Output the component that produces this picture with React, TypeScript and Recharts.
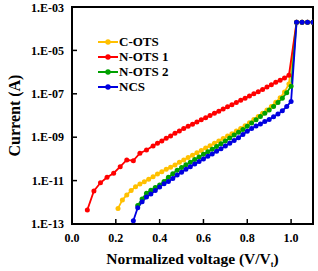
import { LineChart, Line, XAxis, YAxis, ReferenceArea, Legend } from 'recharts';

// x = normalized voltage (V/Vt), y = log10 of current (A)
const cotsX = [0.21, 0.23, 0.25, 0.27, 0.29, 0.31, 0.33, 0.35, 0.37, 0.39, 0.41, 0.43, 0.45, 0.47, 0.49, 0.51, 0.53, 0.55, 0.57, 0.59, 0.61, 0.63, 0.65, 0.67, 0.69, 0.71, 0.73, 0.75, 0.77, 0.79, 0.81, 0.83, 0.85, 0.87, 0.89, 0.91, 0.93, 0.95, 0.97, 0.99];
const cotsLog = [-12.28, -11.89, -11.66, -11.46, -11.28, -11.16, -11.05, -10.94, -10.82, -10.7, -10.59, -10.48, -10.39, -10.28, -10.16, -10.05, -9.94, -9.83, -9.72, -9.61, -9.5, -9.39, -9.28, -9.17, -9.06, -8.95, -8.84, -8.72, -8.6, -8.47, -8.33, -8.19, -8.05, -7.9, -7.75, -7.58, -7.39, -7.18, -6.92, -6.55];

const nots1X = [0.07, 0.1, 0.13, 0.16, 0.19, 0.22, 0.25, 0.28, 0.31, 0.34, 0.37, 0.39, 0.41, 0.43, 0.45, 0.47, 0.49, 0.51, 0.53, 0.55, 0.57, 0.59, 0.61, 0.63, 0.65, 0.67, 0.69, 0.71, 0.73, 0.75, 0.77, 0.79, 0.81, 0.83, 0.85, 0.87, 0.89, 0.91, 0.93, 0.95, 0.97, 0.99];
const nots1Log = [-12.35, -11.48, -11.1, -10.85, -10.66, -10.36, -10.05, -10.08, -9.74, -9.59, -9.4, -9.28, -9.17, -9.05, -8.94, -8.82, -8.71, -8.6, -8.5, -8.4, -8.3, -8.2, -8.1, -8.0, -7.9, -7.8, -7.7, -7.6, -7.5, -7.4, -7.3, -7.2, -7.1, -7.0, -6.9, -6.8, -6.69, -6.58, -6.47, -6.37, -6.27, -6.15];

const nots2X = [0.3, 0.32, 0.34, 0.36, 0.38, 0.4, 0.42, 0.44, 0.46, 0.48, 0.5, 0.52, 0.54, 0.56, 0.58, 0.6, 0.62, 0.64, 0.66, 0.68, 0.7, 0.72, 0.74, 0.76, 0.78, 0.8, 0.82, 0.84, 0.86, 0.88, 0.9, 0.92, 0.94, 0.96, 0.98, 1.0];
const nots2Log = [-12.15, -11.85, -11.58, -11.45, -11.32, -11.2, -11.04, -10.85, -10.68, -10.52, -10.4, -10.27, -10.15, -10.03, -9.91, -9.79, -9.67, -9.55, -9.43, -9.3, -9.17, -9.04, -8.9, -8.77, -8.64, -8.5, -8.35, -8.2, -8.05, -7.9, -7.75, -7.58, -7.4, -7.2, -6.95, -6.65];

const ncsX = [0.28, 0.3, 0.32, 0.34, 0.36, 0.38, 0.4, 0.42, 0.44, 0.46, 0.48, 0.5, 0.52, 0.54, 0.56, 0.58, 0.6, 0.62, 0.64, 0.66, 0.68, 0.7, 0.72, 0.74, 0.76, 0.78, 0.8, 0.82, 0.84, 0.86, 0.88, 0.9, 0.92, 0.94, 0.96, 0.98, 1.0];
const ncsLog = [-12.85, -12.25, -11.98, -11.76, -11.62, -11.46, -11.3, -11.14, -11.04, -10.9, -10.74, -10.62, -10.48, -10.36, -10.24, -10.12, -10.0, -9.88, -9.77, -9.65, -9.53, -9.41, -9.28, -9.15, -9.02, -8.88, -8.73, -8.6, -8.48, -8.39, -8.28, -8.18, -8.06, -7.93, -7.78, -7.59, -7.35];

// compliance plateau reached by every device after switching
const complianceX = [1.025, 1.05, 1.075, 1.1];
const complianceLog = [-3.7, -3.7, -3.7, -3.7];

const xTicks = [0, 0.2, 0.4, 0.6, 0.8, 1.0];
const yTicks = [-13, -11, -9, -7, -5, -3];

const series = [
  { name: 'C-OTS', color: '#FFC000', xs: cotsX, ys: cotsLog },
  { name: 'N-OTS 1', color: '#FF0000', xs: nots1X, ys: nots1Log },
  { name: 'N-OTS 2', color: '#00A000', xs: nots2X, ys: nots2Log },
  { name: 'NCS', color: '#0000E0', xs: ncsX, ys: ncsLog },
];

const toRows = (xs: number[], ys: number[]) =>
  xs.map((x, i) => ({ x, y: ys[i] })).concat(complianceX.map((x, i) => ({ x, y: complianceLog[i] })));

const font = "'Times New Roman', 'Liberation Serif', serif";
const tickStyle = { fill: '#000', fontSize: 12, fontWeight: 700, fontFamily: font };

function LegendBox() {
  return (
    <div style={{ fontFamily: font, fontWeight: 700, fontSize: 13, color: '#000' }}>
      {series.map((s) => (
        <div key={s.name} style={{ display: 'flex', alignItems: 'center', height: 15 }}>
          <svg width={20} height={8} style={{ marginRight: 1 }}>
            <line x1={0} y1={4} x2={20} y2={4} stroke={s.color} strokeWidth={2} />
            <circle cx={10} cy={4} r={2.7} fill={s.color} />
          </svg>
          <span>{s.name}</span>
        </div>
      ))}
    </div>
  );
}

export default function App() {
  return (
    <div style={{ position: 'absolute', left: 0, top: 0, width: 318, height: 271, background: '#fff', fontFamily: font }}>
      <LineChart width={318} height={271} margin={{ top: 7, right: 5, left: 0, bottom: 0 }}>
        <XAxis
          type="number"
          dataKey="x"
          domain={[0, 1.1]}
          ticks={xTicks}
          allowDataOverflow
          tickFormatter={(v: number) => v.toFixed(1)}
          tick={tickStyle}
          tickSize={-5}
          tickMargin={14}
          tickLine={{ stroke: '#000', strokeWidth: 1.5 }}
          axisLine={false}
          height={47}
          label={({ viewBox }: any) => (
            <text
              x={viewBox.x + viewBox.width / 2}
              y={viewBox.y + 40}
              textAnchor="middle"
              style={{ fontFamily: font, fontWeight: 700, fontSize: 15.5 }}
              fill="#000"
            >
              Normalized voltage (V/V<tspan dy={3} style={{ fontSize: 8 }}>t</tspan>
              <tspan dy={-3}>)</tspan>
            </text>
          )}
        />
        <YAxis
          type="number"
          domain={[-13, -3]}
          ticks={yTicks}
          allowDataOverflow
          tickFormatter={(v: number) => `1.E-${String(-v).padStart(2, '0')}`}
          tick={tickStyle}
          tickSize={-5}
          tickMargin={13}
          tickLine={{ stroke: '#000', strokeWidth: 1.5 }}
          axisLine={false}
          width={72}
          label={({ viewBox }: any) => (
            <text
              x={14}
              y={viewBox.y + viewBox.height / 2}
              transform={`rotate(-90, 14, ${viewBox.y + viewBox.height / 2})`}
              textAnchor="middle"
              dominantBaseline="central"
              style={{ fontFamily: font, fontWeight: 700, fontSize: 16 }}
              fill="#000"
            >
              Current (A)
            </text>
          )}
        />
        {series.map((s) => (
          <Line
            key={s.name}
            data={toRows(s.xs, s.ys)}
            dataKey="y"
            name={s.name}
            type="linear"
            stroke={s.color}
            strokeWidth={1.8}
            dot={{ r: 2.5, fill: s.color, stroke: s.color, strokeWidth: 0 }}
            isAnimationActive={false}
          />
        ))}
        <ReferenceArea x1={0} x2={1.1} y1={-13} y2={-3} fill="none" fillOpacity={0} stroke="#000" strokeWidth={2} />
        <Legend
          layout="vertical"
          align="center"
          verticalAlign="middle"
          content={() => <LegendBox />}
          wrapperStyle={{ left: 98, top: 34, width: 'auto', height: 'auto' }}
        />
      </LineChart>
    </div>
  );
}
